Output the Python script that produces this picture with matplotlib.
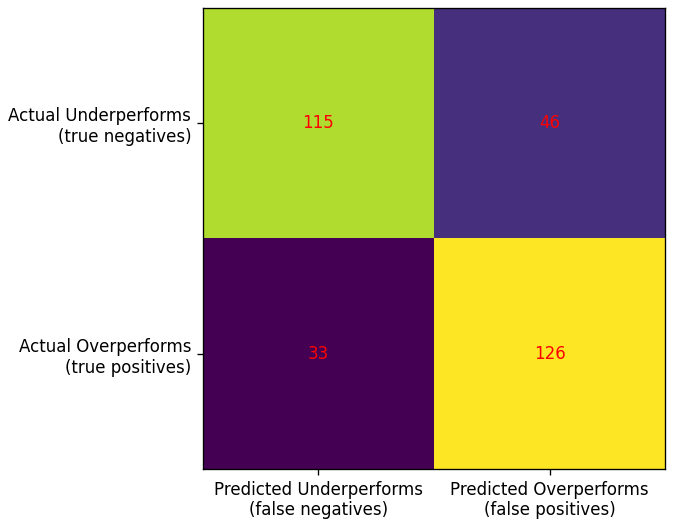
import numpy as np
import matplotlib
matplotlib.use("Agg")
import matplotlib.pyplot as plt

# confusion matrix values
row_labels = ["Actual Underperforms\n(true negatives)", "Actual Overperforms\n(true positives)"]
col_labels = ["Predicted Underperforms\n(false negatives)", "Predicted Overperforms\n(false positives)"]
cm = np.array([[115, 46],
               [33, 126]])

dpi = 120
fig = plt.figure(figsize=(674 / dpi, 527 / dpi), dpi=dpi)
ax = fig.add_axes([0.301, 0.110, 0.686, 0.875])
ax.imshow(cm, cmap="viridis", aspect="auto")

ax.set_xticks(range(len(col_labels)))
ax.set_xticklabels(col_labels)
ax.set_yticks(range(len(row_labels)))
ax.set_yticklabels(row_labels, ha="right")
ax.set_ylim(1.5, -0.5)

for i in range(cm.shape[0]):
    for j in range(cm.shape[1]):
        ax.text(j, i, cm[i, j], ha="center", va="center", color="red")

fig.savefig("out.png", dpi=dpi)
